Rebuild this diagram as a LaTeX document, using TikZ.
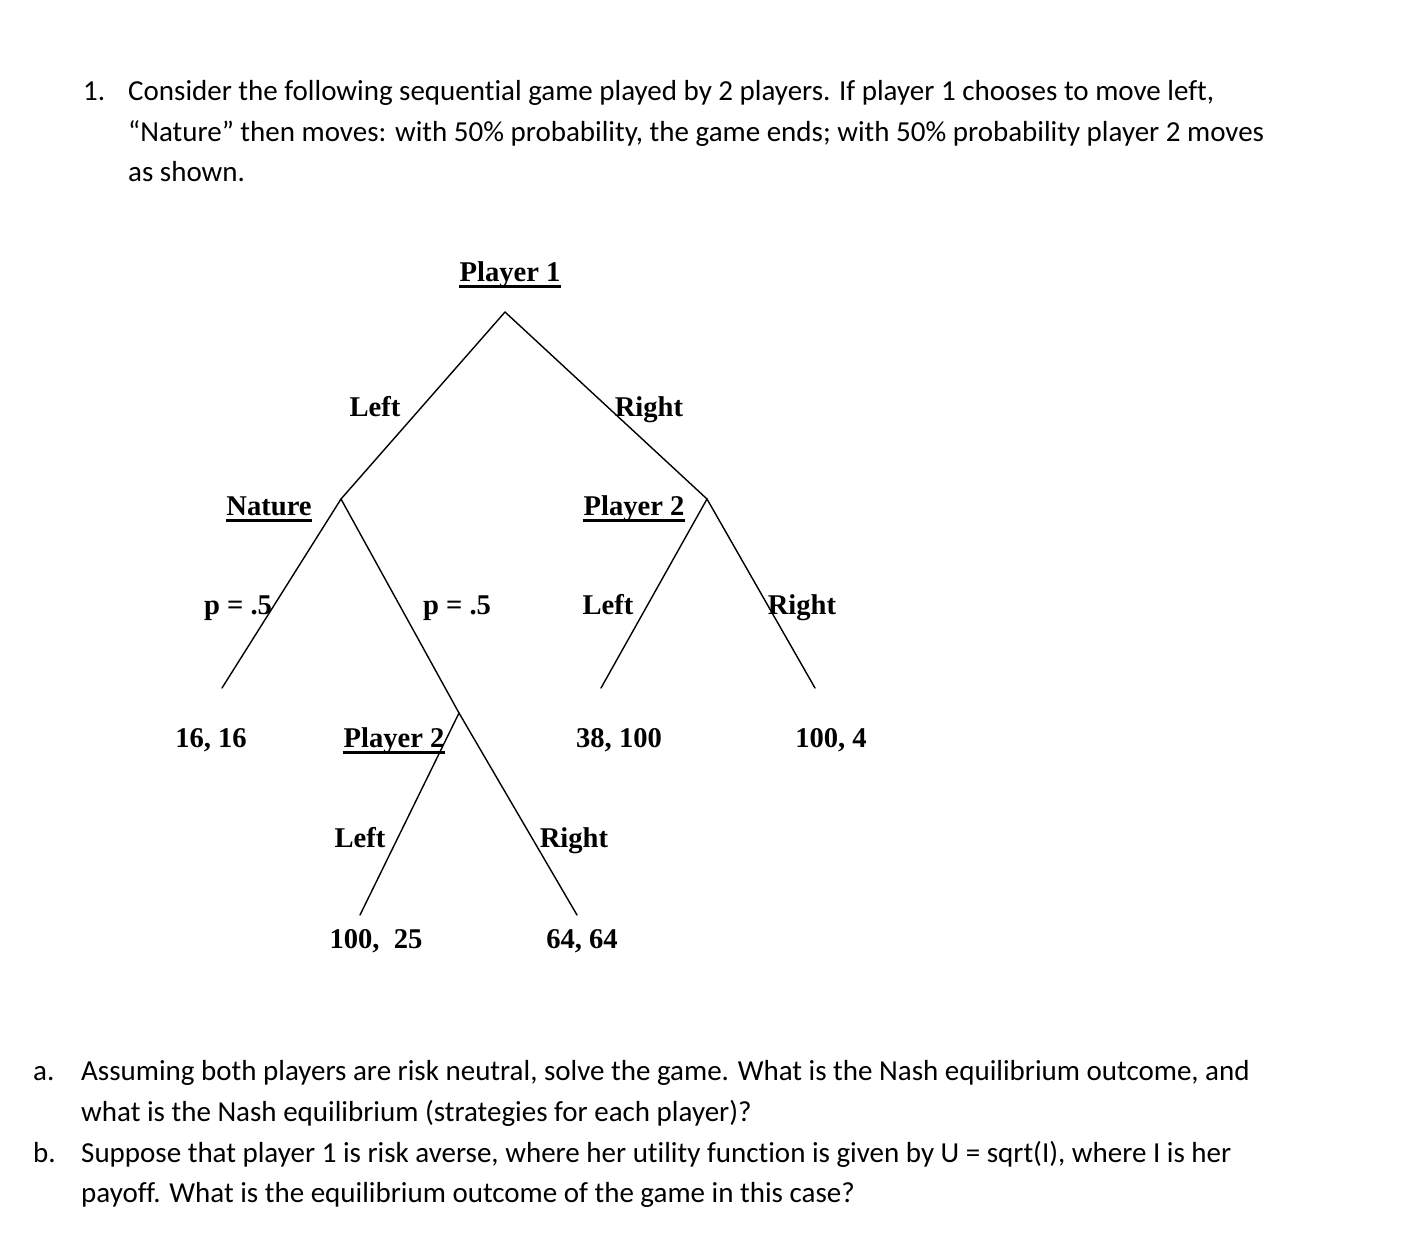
\documentclass[tikz,border=0pt]{standalone}
\usepackage{fontspec}
\setmainfont{Carlito}[Ligatures=NoCommon]
\newfontfamily\tnr{Liberation Serif}
\begin{document}
\begin{tikzpicture}[x=1pt,y=-1pt,
  body/.style={anchor=base west,inner sep=0pt,font=\fontsize{29}{34}\selectfont},
  lbl/.style={anchor=base,inner sep=0pt,font=\tnr\bfseries\fontsize{28.6}{33}\selectfont},
  ulin/.style={line width=2.2pt},
  branch/.style={line width=1.4pt,line cap=round}]
\useasboundingbox[fill=white] (0,0) rectangle (1415,1254);
% text
\node[body] (n1) at (83,100) {1.};
\node[body] (t1) at (128,100) {Consider the following sequential game played by 2 players. If player 1 chooses to move left,};
\node[body] (t2) at (128,141) {“Nature” then moves: with 50\% probability, the game ends; with 50\% probability player 2 moves};
\node[body] (t3) at (128,181) {as shown.};
\node[body] (la) at (33,1080) {a.};
\node[body] (a1) at (81,1080) {Assuming both players are risk neutral, solve the game. What is the Nash equilibrium outcome, and};
\node[body] (a2) at (81,1121) {what is the Nash equilibrium (strategies for each player)?};
\node[body] (lb) at (33,1162) {b.};
\node[body] (b1) at (81,1162) {Suppose that player 1 is risk averse, where her utility function is given by U = sqrt(I), where I is her};
\node[body] (b2) at (81,1202) {payoff. What is the equilibrium outcome of the game in this case?};
% tree vertices
\coordinate (root) at (505,312);
\coordinate (nat) at (341,499);
\coordinate (ptwoR) at (707,499);
\coordinate (ptwoL) at (459,713);
\coordinate (e1) at (222,688);
\coordinate (e2) at (601,688);
\coordinate (e3) at (815,688);
\coordinate (e4) at (360,915);
\coordinate (e5) at (577,915);
\draw[branch] (root) -- (nat);
\draw[branch] (root) -- (ptwoR);
\draw[branch] (nat) -- (e1);
\draw[branch] (nat) -- (ptwoL);
\draw[branch] (ptwoR) -- (e2);
\draw[branch] (ptwoR) -- (e3);
\draw[branch] (ptwoL) -- (e4);
\draw[branch] (ptwoL) -- (e5);
% labels
\node[lbl] (lp1) at (510,281) {Player 1};
\node[lbl] (lL1) at (375,416) {Left};
\node[lbl] (lR1) at (649,416) {Right};
\node[lbl] (lnat) at (269,515) {Nature};
\node[lbl] (lp2a) at (634,515) {Player 2};
\node[lbl] (lpa) at (238,614) {p = .5};
\node[lbl] (lpb) at (457,614) {p = .5};
\node[lbl] (lL2) at (608,614) {Left};
\node[lbl] (lR2) at (802,614) {Right};
\node[lbl] (o1) at (211,747) {16, 16};
\node[lbl] (lp2b) at (394,747) {Player 2};
\node[lbl] (o2) at (619,747) {38, 100};
\node[lbl] (o3) at (831,747) {100, 4};
\node[lbl] (lL3) at (360,847) {Left};
\node[lbl] (lR3) at (574,847) {Right};
\node[lbl] (o4) at (376,948) {100,\ \ 25};
\node[lbl] (o5) at (582,948) {64, 64};
% underlines
\foreach \n in {lp1,lnat,lp2a,lp2b}
  \draw[ulin] ([yshift=-5.5pt]\n.base west) -- ([yshift=-5.5pt]\n.base east);
\end{tikzpicture}
\end{document}
